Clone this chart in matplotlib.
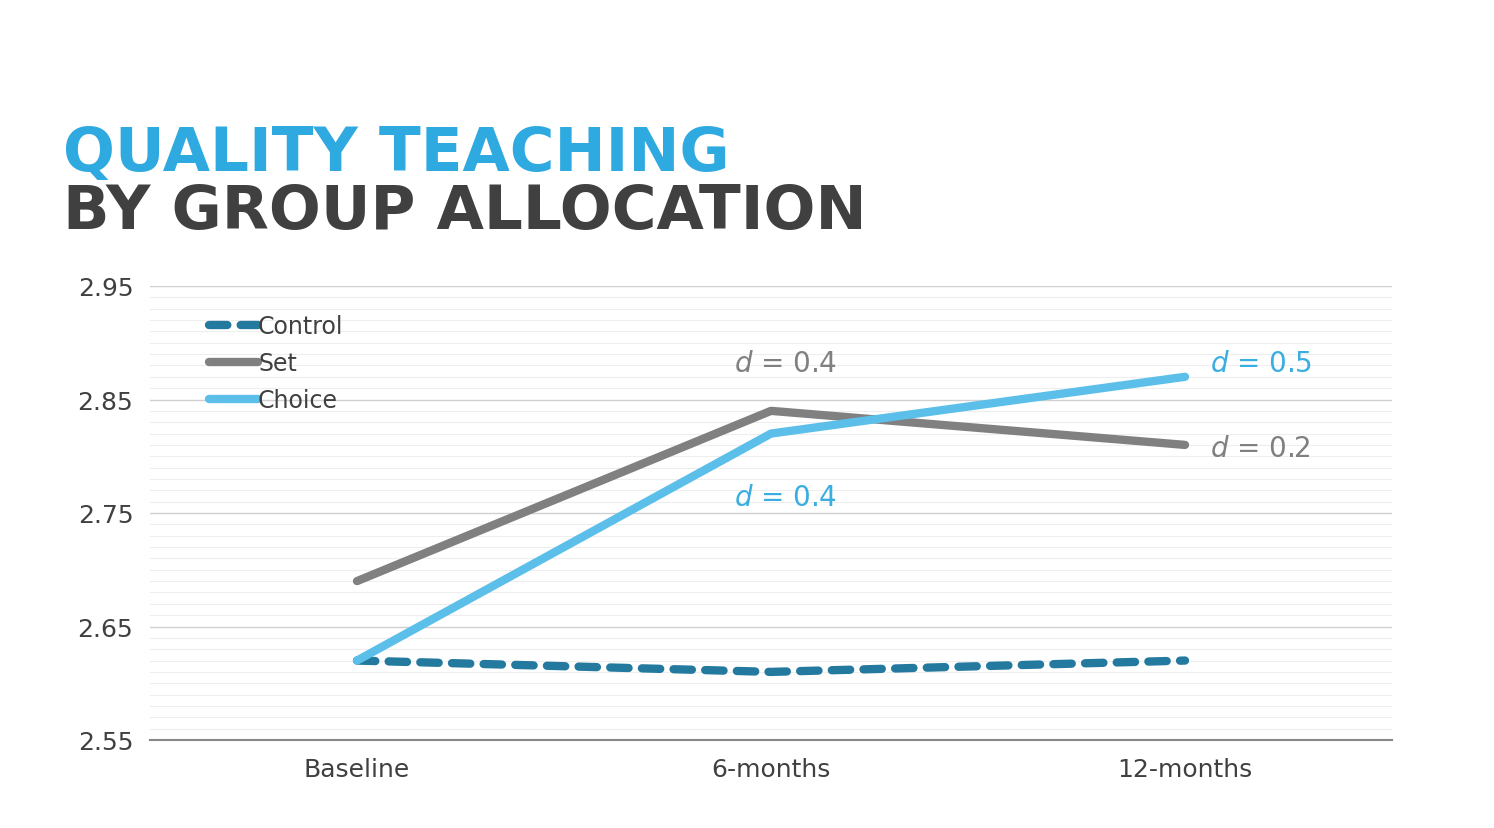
import matplotlib
matplotlib.use("Agg")
import matplotlib.pyplot as plt
from matplotlib.ticker import MultipleLocator

categories = ["Baseline", "6-months", "12-months"]
control = [2.62, 2.61, 2.62]
set_vals = [2.69, 2.84, 2.81]
choice = [2.62, 2.82, 2.87]
yticks = [2.55, 2.65, 2.75, 2.85, 2.95]

fig = plt.figure(figsize=(14.94, 8.29), dpi=100)
ax = fig.add_axes([150/1494, 1-741/829, 1242/1494, 454/829])
x = range(len(categories))
c_ctrl, c_set, c_ch = "#23799E", "#808080", "#5BBFEA"
ax.plot(x, control, color=c_ctrl, lw=6, ls=(0, (2.2, 1.6)), dash_capstyle="round", label="Control")
ax.plot(x, set_vals, color=c_set, lw=6, solid_capstyle="round", label="Set")
ax.plot(x, choice, color=c_ch, lw=6, solid_capstyle="round", label="Choice")

ax.set_xlim(-0.5, 2.5)
ax.set_ylim(2.55, 2.95)
ax.set_yticks(yticks)
ax.set_yticklabels([f"{v:.2f}" for v in yticks])
ax.yaxis.set_minor_locator(MultipleLocator(0.01))
ax.set_xticks(list(x))
ax.set_xticklabels(categories)
ax.tick_params(axis="both", length=0, labelsize=18, labelcolor="#404040", pad=12)
ax.tick_params(axis="y", which="minor", length=0)
ax.grid(axis="y", which="major", color="#D0D0D0", lw=1)
ax.grid(axis="y", which="minor", color="#EEEEEE", lw=0.8)
ax.set_axisbelow(True)
for s in ["top", "right", "left"]:
    ax.spines[s].set_visible(False)
ax.spines["bottom"].set_color("#888888")
ax.spines["bottom"].set_linewidth(1.5)

leg = ax.legend(loc="upper left", bbox_to_anchor=(0.03, 0.985), frameon=False, fontsize=17,
                handlelength=2.1, handletextpad=0.0, labelspacing=0.55)
for t in leg.get_texts():
    t.set_color("#404040")

def ann(xv, yv, txt, color):
    ax.text(xv, yv, r"$\it{d}$" + f" = {txt}", color=color, fontsize=20, ha="left", va="center")

ann(0.91, 2.882, "0.4", c_set)
ann(0.91, 2.764, "0.4", "#3AAEE0")
ann(2.06, 2.882, "0.5", "#3AAEE0")
ann(2.06, 2.807, "0.2", c_set)

fig.text(63/1494, 1-154/829, "QUALITY TEACHING", color="#2EAAE1", fontsize=44,
         fontweight="heavy", va="center", ha="left")
fig.text(63/1494, 1-212/829, "BY GROUP ALLOCATION", color="#404040", fontsize=44,
         fontweight="heavy", va="center", ha="left")
fig.savefig("out.png", dpi=100)
